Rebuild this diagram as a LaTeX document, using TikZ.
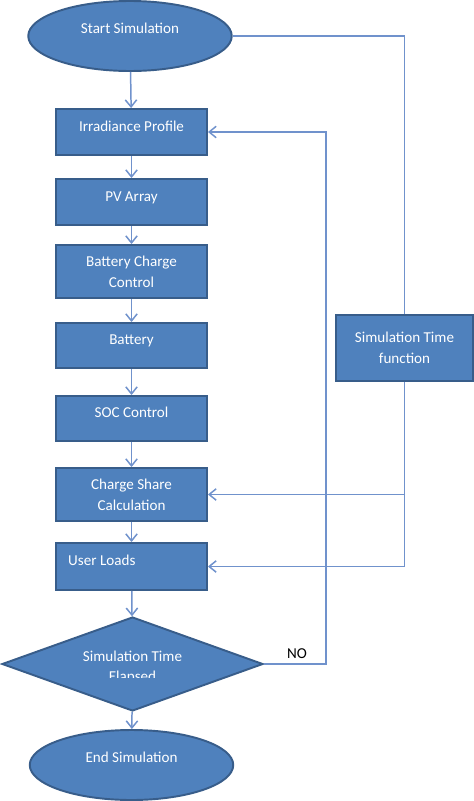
\documentclass[tikz,border=0pt]{standalone}
\usepackage{fontspec}
\setmainfont{Carlito}
\usepackage{xcolor}
\usepackage{tikz}
\usetikzlibrary{shapes.geometric, arrows.meta, positioning}
\definecolor{boxblue}{RGB}{79,129,189}
\definecolor{edgeblue}{RGB}{56,93,138}
\definecolor{lineblue}{RGB}{112,146,204}

\begin{document}
\begin{tikzpicture}[
  box/.style={rectangle, draw=edgeblue, line width=1.1pt, fill=boxblue, text=white, minimum width=3.02cm, align=center, font=\fontsize{8.6}{11.9}\selectfont},
  onebox/.style={box, text height=6pt, text depth=7pt},
  term/.style={ellipse, draw=edgeblue, line width=1.1pt, fill=boxblue, text=white, minimum width=4.07cm, minimum height=1.4cm, text height=6pt, text depth=9.4pt, font=\fontsize{8.6}{11.9}\selectfont},
  line/.style={draw=lineblue, line width=0.85pt},
  arrow/.style={line, -{Straight Barb[length=4pt, width=6.5pt]}}
]
\useasboundingbox (0,0) rectangle (9.48,-16.02);

% Main chain
\node[term] (start) at (2.60,-0.72) {Start Simulation};
\node[onebox, minimum height=0.92cm] (irr) at (2.63,-2.64) {Irradiance Profile};
\node[onebox, minimum height=0.92cm] (pv) at (2.63,-4.04) {PV Array};
\node[box, minimum height=1.06cm] (bcc) at (2.63,-5.43) {Battery Charge\\Control};
\node[onebox, minimum height=0.90cm] (bat) at (2.63,-6.91) {Battery};
\node[onebox, minimum height=0.90cm] (soc) at (2.63,-8.37) {SOC Control};
\node[box, minimum height=1.06cm] (csc) at (2.63,-9.89) {Charge Share\\Calculation};
\node[onebox, minimum height=0.94cm, text width=72pt, inner xsep=6.8pt, align=flush left] (ul) at (2.63,-11.33) {User Loads};

% Decision
\node[diamond, draw=edgeblue, line width=1.1pt, fill=boxblue, minimum width=5.22cm, minimum height=1.88cm] (dec) at (2.65,-13.28) {};
\begin{scope}
  \clip (0,-12) rectangle (9.48,-13.55);
  \node[text=white, align=center, font=\fontsize{8.6}{11.9}\selectfont] (dectext) at (2.65,-13.35) {Simulation Time\\Elapsed};
\end{scope}
\node[term] (end) at (2.63,-15.30) {End Simulation};

% Timer
\node[box, minimum width=2.74cm, minimum height=1.32cm] (stf) at (8.09,-6.96) {Simulation Time\\function};

% Arrows
\draw[arrow] (start) -- (irr);
\draw[arrow] (irr) -- (pv);
\draw[arrow] (pv) -- (bcc);
\draw[arrow] (bcc) -- (bat);
\draw[arrow] (bat) -- (soc);
\draw[arrow] (soc) -- (csc);
\draw[arrow] (csc) -- (ul);
\draw[arrow] (ul) -- (dec);
\draw[arrow] (dec) -- (end);

\draw[line] (start.east) -| (stf.north);
\draw[arrow] (stf.south) |- (ul.east);
\draw[arrow] (stf.south |- csc.east) -- (csc.east);

\coordinate (noturn) at (6.52,-13.28);
\draw[arrow] (dec.east) -- (noturn) |- (irr.east);
\node[font=\fontsize{8.6}{11.9}\selectfont] (no) at (5.94,-13.08) {NO};

\end{tikzpicture}
\end{document}
